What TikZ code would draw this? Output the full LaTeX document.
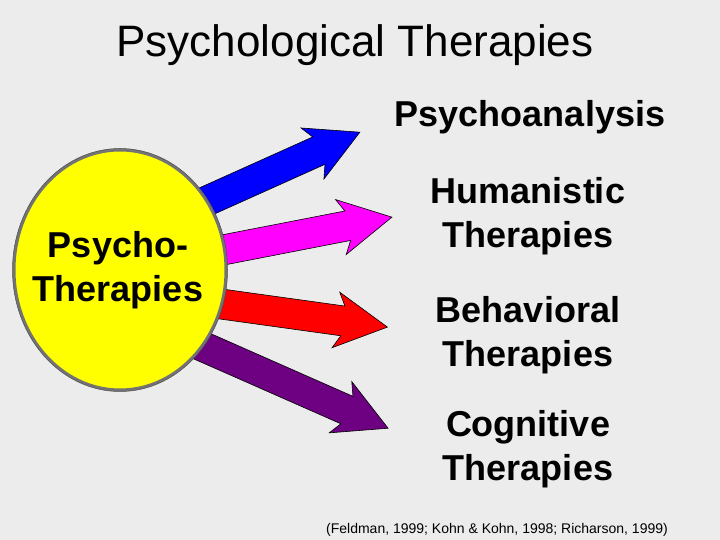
\documentclass[tikz,border=0pt]{standalone}
\usepackage{fontspec}
\setmainfont{Liberation Sans}
\usetikzlibrary{shapes.geometric}
\definecolor{mag}{RGB}{255,0,255}
\definecolor{blu}{RGB}{0,0,255}
\definecolor{rd}{RGB}{255,0,0}
\definecolor{pur}{RGB}{110,0,130}
\definecolor{yel}{RGB}{255,255,0}
\begin{document}
\begin{tikzpicture}[x=1pt,y=1pt,
  lbl/.style={font=\fontsize{36}{44}\selectfont\bfseries,align=center,text=black},
  blk/.style={draw=black,line width=0.6pt}]
\fill[gray!15] (0,0) rectangle (720,540);
\useasboundingbox (0,0) rectangle (720,540);
\def\blockarrow#1#2#3#4#5{% x y angle length color
  \begin{scope}[shift={(#1,#2)},rotate=#3]
   \filldraw[blk,fill=#5] (0,-15) -- (#4-45,-15) -- (#4-52,-28) -- (#4,0) -- (#4-52,28) -- (#4-45,15) -- (0,15) -- cycle;
  \end{scope}}
\blockarrow{120}{300}{24.2}{263}{blu}
\blockarrow{120}{270}{11.0}{277}{mag}
\blockarrow{120}{250}{-7.9}{270}{rd}
\blockarrow{120}{230}{-23.8}{293}{pur}
\node[ellipse,draw=black!55,line width=3pt,fill=yel,minimum width=212pt,minimum height=240pt,inner sep=0pt] (c) at (120,270) {};
\draw[black!70,line width=0.5pt] (120,270) ellipse [x radius=107.5pt,y radius=121.5pt];
\node[lbl] (ct) at (118,270) {Psycho-\\Therapies};
\node[font=\fontsize{44}{50}\selectfont] (t) at (355,495) {Psychological Therapies};
\node[lbl] (a) at (530,423) {Psychoanalysis};
\node[lbl] (b) at (528,324) {Humanistic\\Therapies};
\node[lbl] (d) at (528,205) {Behavioral\\Therapies};
\node[lbl] (e) at (528,91) {Cognitive\\Therapies};
\node[font=\fontsize{14}{16}\selectfont] (f) at (497,10) {(Feldman, 1999; Kohn \& Kohn, 1998; Richarson, 1999)};
\end{tikzpicture}
\end{document}
